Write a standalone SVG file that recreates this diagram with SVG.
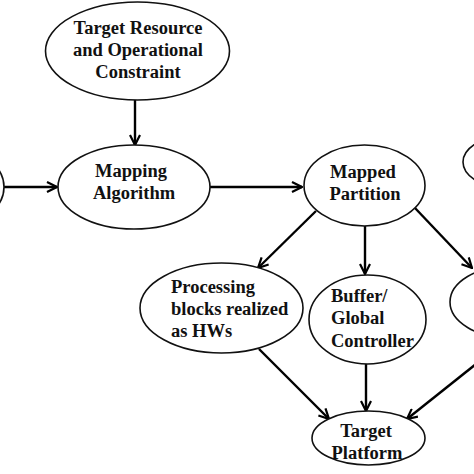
<svg xmlns="http://www.w3.org/2000/svg" width="474" height="474" viewBox="0 0 474 474">
<defs>
<marker id="arr" viewBox="0 0 12 12" refX="11" refY="6" markerWidth="12" markerHeight="12" markerUnits="userSpaceOnUse" orient="auto">
<path d="M1,1 L11,6 L1,11" fill="none" stroke="#000" stroke-width="2.2"/>
</marker>
<style>
.n{fill:#fff;stroke:#111;stroke-width:1.6}
.t{font-family:"Liberation Serif","Times New Roman",serif;font-weight:bold;font-size:18.5px;fill:#111}
.c{text-anchor:middle}
.e{fill:none;stroke:#000;stroke-width:2.4;marker-end:url(#arr)}
</style>
</defs>
<rect width="474" height="474" fill="#fff"/>
<g id="connectors">
<line class="e" x1="135" y1="100" x2="135" y2="145"/>
<line class="e" x1="4" y1="187" x2="57" y2="187"/>
<line class="e" x1="210" y1="187" x2="302" y2="187"/>
<line class="e" x1="316" y1="211" x2="258" y2="268"/>
<line class="e" x1="365" y1="226" x2="365" y2="274"/>
<line class="e" x1="415" y1="208" x2="472" y2="268"/>
<line class="e" x1="259" y1="349" x2="329" y2="419"/>
<line class="e" x1="366" y1="364" x2="366" y2="411"/>
<line class="e" x1="476" y1="364" x2="407" y2="419"/>
</g>
<g id="target-resource">
<ellipse class="n" cx="137.5" cy="51" rx="92" ry="49"/>
<text class="t c" x="138" y="34">Target Resource</text>
<text class="t c" x="138" y="56">and Operational</text>
<text class="t c" x="138" y="78">Constraint</text>
</g>
<g id="left-partial">
<ellipse class="n" cx="-40" cy="187" rx="44" ry="36"/>
</g>
<g id="mapping-algorithm">
<ellipse class="n" cx="134" cy="187" rx="76" ry="42"/>
<text class="t c" x="131" y="177">Mapping</text>
<text class="t c" x="134" y="199">Algorithm</text>
</g>
<g id="mapped-partition">
<ellipse class="n" cx="364.5" cy="185.5" rx="60.5" ry="40.5"/>
<text class="t c" x="363" y="178">Mapped</text>
<text class="t c" x="365" y="200">Partition</text>
</g>
<g id="right-partial-top">
<ellipse class="n" cx="515" cy="162" rx="52" ry="28"/>
</g>
<g id="processing-blocks">
<ellipse class="n" cx="221.5" cy="308" rx="81.5" ry="45"/>
<text class="t" x="171" y="293">Processing</text>
<text class="t" x="171" y="315">blocks realized</text>
<text class="t" x="171" y="337">as HWs</text>
</g>
<g id="buffer-controller">
<ellipse class="n" cx="367.5" cy="319.5" rx="58.5" ry="44.5"/>
<text class="t" x="331" y="302">Buffer/</text>
<text class="t" x="331" y="324">Global</text>
<text class="t" x="331" y="347">Controller</text>
</g>
<g id="right-partial-bottom">
<ellipse class="n" cx="510" cy="302" rx="60" ry="36"/>
</g>
<g id="target-platform">
<ellipse class="n" cx="368.5" cy="438" rx="56.5" ry="27"/>
<text class="t c" x="366" y="437">Target</text>
<text class="t c" x="367" y="459">Platform</text>
</g>
</svg>
